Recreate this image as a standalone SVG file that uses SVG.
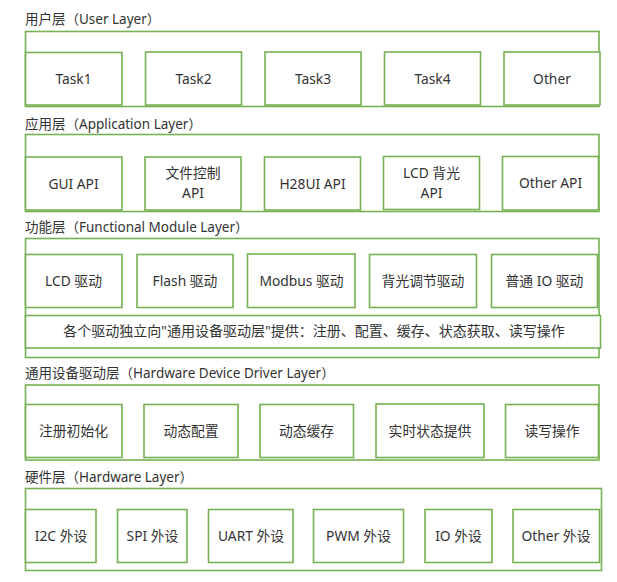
<svg xmlns="http://www.w3.org/2000/svg" width="617" height="582" viewBox="0 0 617 582">
<style>
.layer{fill:none;stroke:#76b153;stroke-width:1.6}
.box{fill:#fff;stroke:#76b153;stroke-width:1.6}
.t{font-family:"Noto Sans","Noto Sans CJK SC",sans-serif;font-size:13.8px;fill:#333;text-anchor:middle;dominant-baseline:central}
.title{font-family:"Noto Sans","Noto Sans CJK SC",sans-serif;font-size:13.5px;fill:#333;dominant-baseline:central}
</style>
<rect width="617" height="582" fill="#fff"/>

<g id="user-layer">
<text class="title" x="25" y="18.5">用户层（User Layer）</text>
<rect class="layer" x="25.5" y="31.5" width="573.5" height="75"/>
</g>
<g id="task1"><rect class="box" x="25.5" y="52.5" width="96.5" height="52.5"/><text class="t" x="73.5" y="78">Task1</text></g>
<g id="task2"><rect class="box" x="145.5" y="52" width="96" height="53"/><text class="t" x="193.5" y="78">Task2</text></g>
<g id="task3"><rect class="box" x="265" y="52" width="96" height="53"/><text class="t" x="313" y="78">Task3</text></g>
<g id="task4"><rect class="box" x="384.5" y="52" width="96" height="53"/><text class="t" x="432.5" y="78">Task4</text></g>
<g id="other"><rect class="box" x="504" y="52" width="96" height="53"/><text class="t" x="552" y="78">Other</text></g>

<g id="app-layer">
<text class="title" x="25" y="123.5">应用层（Application Layer）</text>
<rect class="layer" x="25.5" y="134.5" width="573.5" height="77"/>
</g>
<g id="gui-api"><rect class="box" x="25.5" y="157" width="96.5" height="53"/><text class="t" x="73.5" y="183">GUI API</text></g>
<g id="file-api"><rect class="box" x="145" y="157" width="96" height="53"/><text class="t" x="193" y="172">文件控制</text><text class="t" x="193" y="192">API</text></g>
<g id="h28ui-api"><rect class="box" x="264.5" y="157" width="96" height="53"/><text class="t" x="312.5" y="183">H28UI API</text></g>
<g id="lcd-api"><rect class="box" x="383.5" y="156.5" width="96" height="53"/><text class="t" x="431.5" y="172">LCD 背光</text><text class="t" x="431.5" y="192">API</text></g>
<g id="other-api"><rect class="box" x="502.5" y="156.5" width="96" height="53.5"/><text class="t" x="550.5" y="182">Other API</text></g>

<g id="func-layer">
<text class="title" x="25" y="226.5">功能层（Functional Module Layer）</text>
<rect class="layer" x="25.5" y="238.5" width="573.5" height="119"/>
</g>
<g id="lcd-drv"><rect class="box" x="25.5" y="254.5" width="96.5" height="53"/><text class="t" x="73.5" y="280">LCD 驱动</text></g>
<g id="flash-drv"><rect class="box" x="137" y="254.5" width="96" height="53"/><text class="t" x="185" y="280">Flash 驱动</text></g>
<g id="modbus-drv"><rect class="box" x="247.5" y="254" width="107.5" height="53.5"/><text class="t" x="301.5" y="280">Modbus 驱动</text></g>
<g id="backlight-drv"><rect class="box" x="369.5" y="254.5" width="107" height="53"/><text class="t" x="423" y="280">背光调节驱动</text></g>
<g id="io-drv"><rect class="box" x="491.5" y="254.5" width="106" height="53"/><text class="t" x="544.5" y="280">普通 IO 驱动</text></g>
<g id="drv-note"><rect class="box" x="25.5" y="315.5" width="575" height="32.5"/><text class="t" x="314" y="330.5" style="font-size:14px">各个驱动独立向"通用设备驱动层"提供：注册、配置、缓存、状态获取、读写操作</text></g>

<g id="hdd-layer">
<text class="title" x="25" y="373">通用设备驱动层（Hardware Device Driver Layer）</text>
<rect class="layer" x="25.5" y="385" width="573.5" height="75"/>
</g>
<g id="reg-init"><rect class="box" x="25.5" y="404.5" width="96.5" height="53"/><text class="t" x="73.5" y="430">注册初始化</text></g>
<g id="dyn-cfg"><rect class="box" x="144" y="404.5" width="94" height="53"/><text class="t" x="191" y="430">动态配置</text></g>
<g id="dyn-cache"><rect class="box" x="260" y="404.5" width="93.5" height="53"/><text class="t" x="306.5" y="430">动态缓存</text></g>
<g id="rt-status"><rect class="box" x="376" y="404" width="108" height="53.5"/><text class="t" x="430" y="430">实时状态提供</text></g>
<g id="rw-op"><rect class="box" x="505.5" y="404.5" width="93" height="53"/><text class="t" x="552" y="430">读写操作</text></g>

<g id="hw-layer">
<text class="title" x="25" y="476.5">硬件层（Hardware Layer）</text>
<rect class="layer" x="25.5" y="488.5" width="576" height="82"/>
</g>
<g id="i2c"><rect class="box" x="25.5" y="509.5" width="70.5" height="53"/><text class="t" x="61" y="535">I2C 外设</text></g>
<g id="spi"><rect class="box" x="117.5" y="509.5" width="69.5" height="53"/><text class="t" x="152.5" y="535">SPI 外设</text></g>
<g id="uart"><rect class="box" x="208.5" y="509.5" width="84.5" height="53"/><text class="t" x="251" y="535">UART 外设</text></g>
<g id="pwm"><rect class="box" x="313.5" y="509.5" width="90" height="53"/><text class="t" x="358.5" y="535">PWM 外设</text></g>
<g id="io"><rect class="box" x="425" y="509.5" width="67" height="53"/><text class="t" x="458.5" y="535">IO 外设</text></g>
<g id="other-hw"><rect class="box" x="513" y="509.5" width="86.5" height="53"/><text class="t" x="556" y="535">Other 外设</text></g>

<g id="connectors"></g>
</svg>
